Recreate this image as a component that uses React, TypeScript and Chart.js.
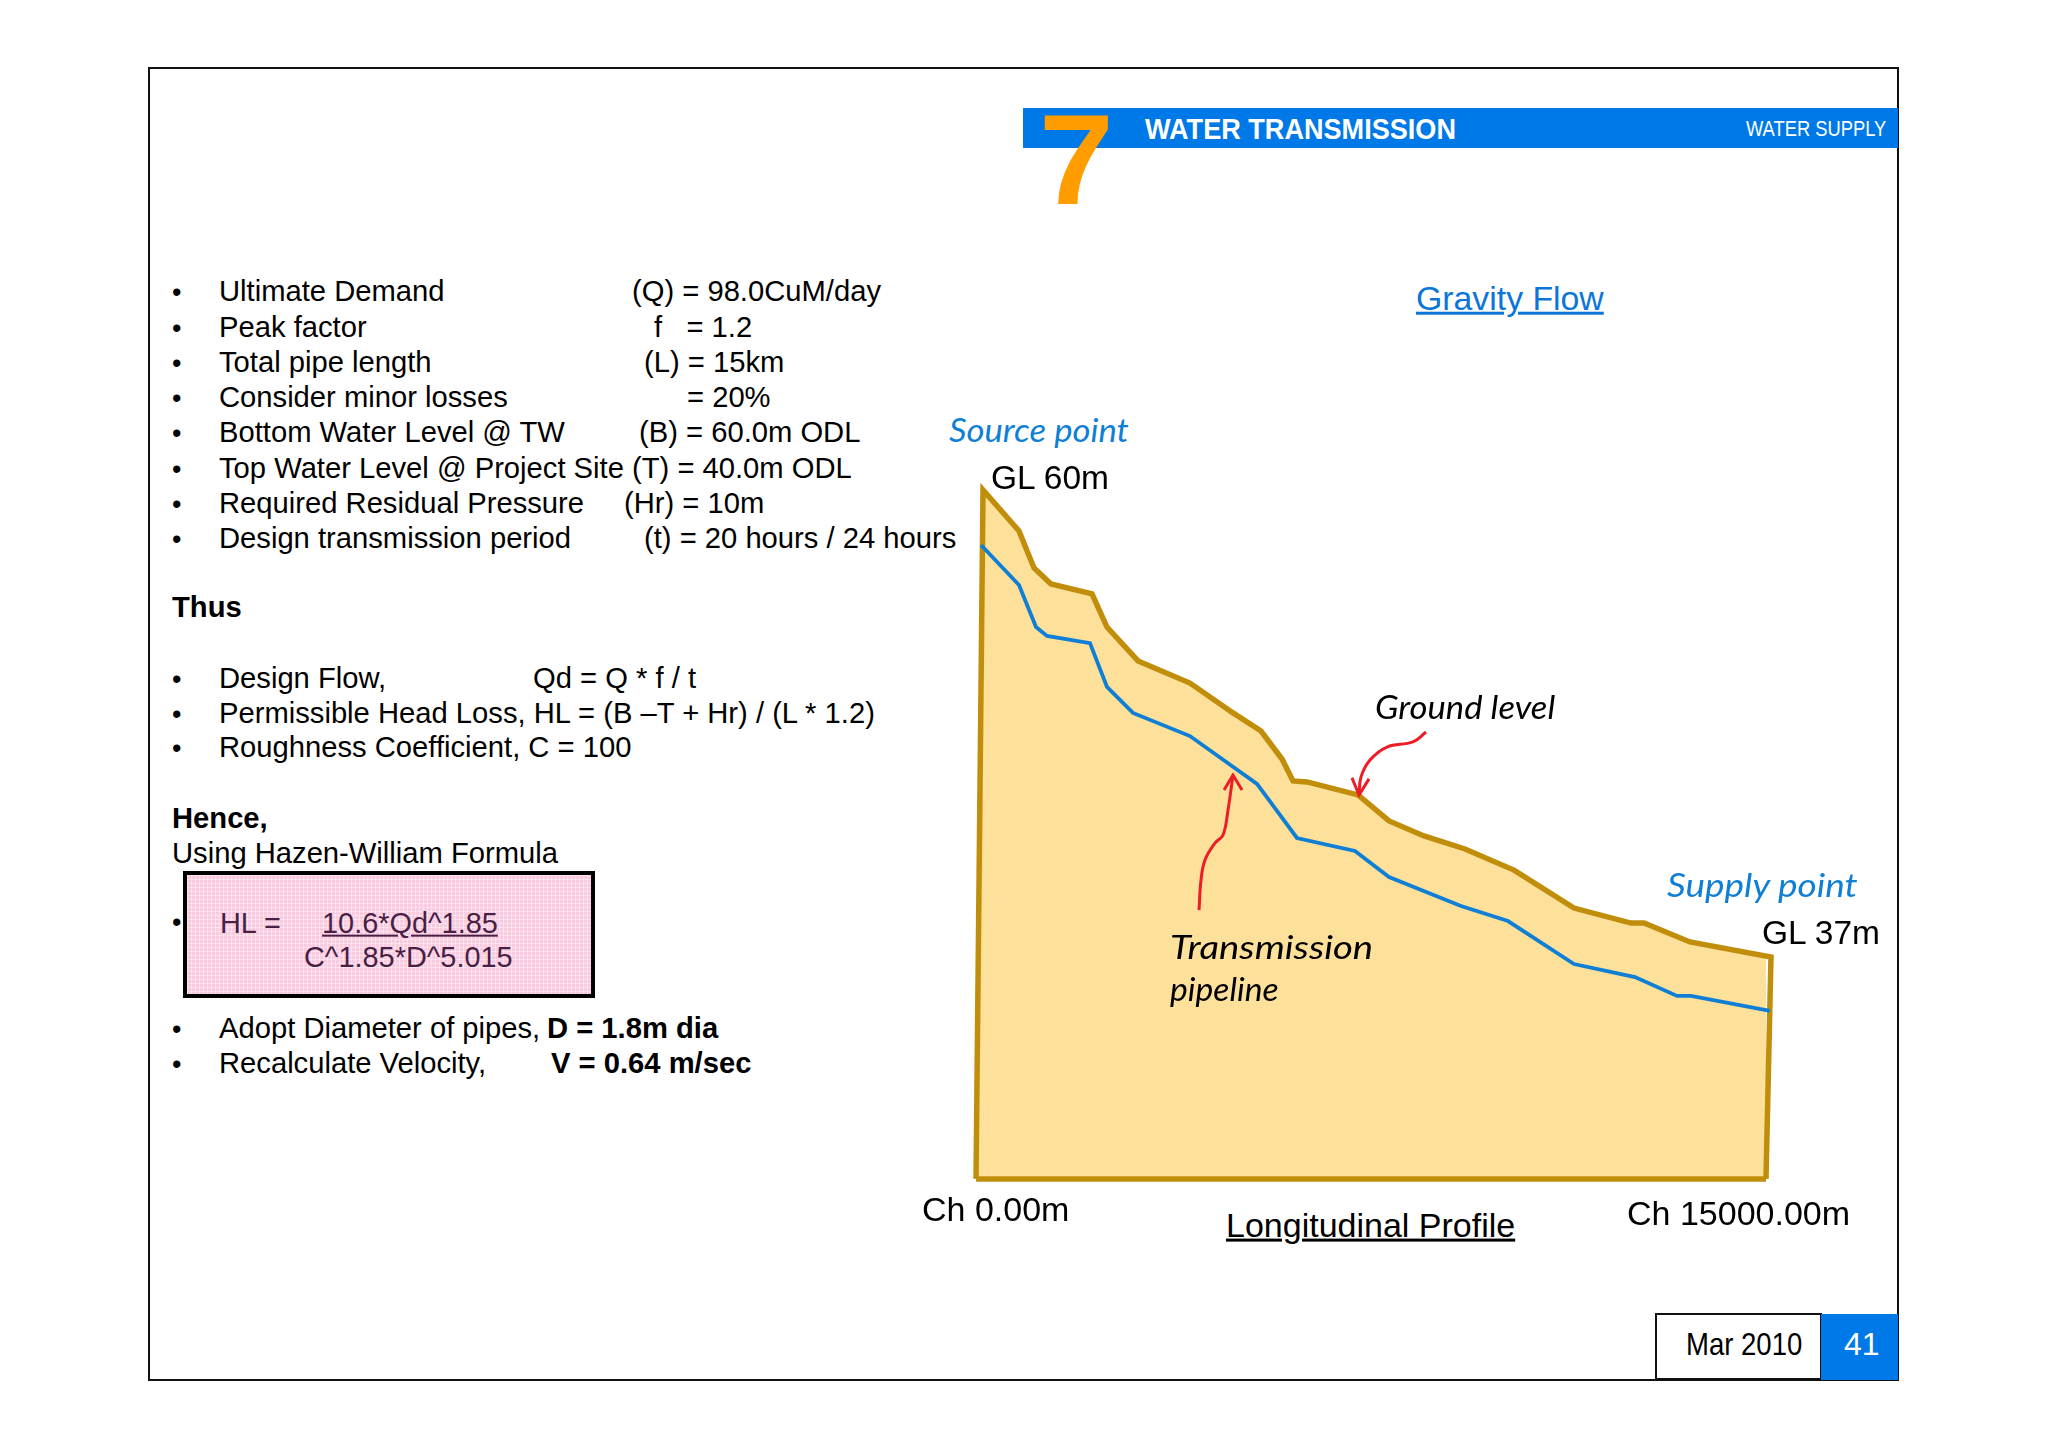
import React, { useEffect, useRef } from 'react';
import { Chart, registerables } from 'chart.js';

Chart.register(...registerables);

// ground profile, chainage in metres and level in metres ODL
const groundChainage = [-133, 0, 685, 971, 1294, 2075, 2360, 2951, 3940, 4759, 5292, 5692, 5901, 6168, 7139, 7729, 8395, 9175, 10108, 11250, 12335, 12583, 13458, 15000, 14905];
const groundLevel = [26.07, 60, 57.98, 56.16, 55.37, 54.88, 53.25, 51.58, 50.49, 49.02, 48.13, 46.75, 45.67, 45.62, 44.98, 43.7, 42.96, 42.32, 41.28, 39.41, 38.67, 38.67, 37.74, 37, 26.07];

const pipeChainage = [-38, 685, 1009, 1218, 2037, 2360, 2855, 3940, 5216, 5977, 7081, 7729, 9099, 9994, 11250, 12411, 13211, 13477, 14981];
const pipeLevel = [57.29, 55.32, 53.25, 52.81, 52.46, 50.3, 49.02, 47.88, 45.52, 42.86, 42.22, 40.94, 39.51, 38.77, 36.65, 36.01, 35.08, 35.08, 34.34];

const baseChainage = [-133, 14905];
const baseLevel = [26.07, 26.07];

// red call-out arrows
const groundArrowChainage = [8433, 8185, 7691, 7367, 7196, 7158];
const groundArrowLevel = [48.08, 47.59, 47.34, 46.7, 45.87, 44.98];
const groundHeadChainage = [7024, 7158, 7348];
const groundHeadLevel = [45.82, 44.98, 45.77];
const pipeArrowChainage = [4112, 4150, 4226, 4416, 4569, 4664, 4759];
const pipeArrowLevel = [39.31, 40.79, 41.78, 42.61, 43.01, 44.24, 45.96];
const pipeHeadChainage = [4588, 4759, 4930];
const pipeHeadLevel = [45.22, 45.96, 45.22];

const BOLD = 'bold';
const SANS = '"Liberation Sans", Arial, sans-serif';
const HAND = '"Lato", cursive';

const zip = (xs: number[], ys: number[]) => xs.map((x, i) => ({ x, y: ys[i] }));

type TProps = {
  x: number;
  y: number;
  size?: number;
  weight?: string;
  color?: string;
  font?: string;
  italic?: boolean;
  underline?: boolean;
  sx?: number;
  children: React.ReactNode;
};

function T({ x, y, size = 29.2, weight = 'normal', color = '#000', font = SANS, italic, underline, sx = 1, children }: TProps) {
  return (
    <div
      style={{
        position: 'absolute',
        left: x,
        top: y,
        transform: `translateY(-50%) scaleX(${sx})`,
        transformOrigin: 'left center',
        whiteSpace: 'pre',
        fontFamily: font,
        fontSize: size,
        fontWeight: weight,
        fontStyle: italic ? 'italic' : 'normal',
        textDecoration: underline ? 'underline' : 'none',
        color,
        lineHeight: 1.2,
      }}
    >
      {children}
    </div>
  );
}

const Box = ({ style }: { style: React.CSSProperties }) => <div style={{ position: 'absolute', boxSizing: 'border-box', ...style }} />;

const arrowStyle = { borderColor: '#EE1C25', borderWidth: 3, pointRadius: 0, showLine: true, fill: false };

function Profile() {
  const canvasRef = useRef<HTMLCanvasElement | null>(null);

  useEffect(() => {
    if (!canvasRef.current) return;
    const chart = new Chart(canvasRef.current, {
      type: 'scatter',
      data: {
        datasets: [
          { ...arrowStyle, data: zip(groundArrowChainage, groundArrowLevel), tension: 0.4 },
          { ...arrowStyle, data: zip(groundHeadChainage, groundHeadLevel) },
          { ...arrowStyle, data: zip(pipeArrowChainage, pipeArrowLevel), tension: 0.4 },
          { ...arrowStyle, data: zip(pipeHeadChainage, pipeHeadLevel) },
          { data: zip(pipeChainage, pipeLevel), borderColor: '#0F7FD6', borderWidth: 3.8, pointRadius: 0, showLine: true, fill: false },
          { data: zip(baseChainage, baseLevel), borderColor: '#C18E0C', borderWidth: 5.5, pointRadius: 0, showLine: true, fill: false },
          {
            data: zip(groundChainage, groundLevel),
            borderColor: '#C18E0C',
            borderWidth: 5.5,
            borderJoinStyle: 'miter',
            backgroundColor: '#FDE09A',
            pointRadius: 0,
            showLine: true,
            fill: { value: 26.07 },
          },
        ],
      },
      options: {
        animation: false,
        responsive: false,
        devicePixelRatio: 1,
        layout: { padding: 0 },
        plugins: { legend: { display: false }, tooltip: { enabled: false } },
        scales: {
          x: { type: 'linear', display: false, min: -438, max: 15362 },
          y: { type: 'linear', display: false, min: 25.03, max: 60.985 },
        },
      },
    });
    return () => chart.destroy();
  }, []);

  return <canvas ref={canvasRef} width={830} height={730} style={{ position: 'absolute', left: 960, top: 470, width: 830, height: 730 }} />;
}

export default function App(): React.JSX.Element {
  return (
    <div style={{ position: 'absolute', left: 0, top: 0, width: 2048, height: 1448, background: '#fff', overflow: 'hidden' }}>
      {/* page frame and header */}
      <Box style={{ left: 148, top: 67, width: 1751, height: 1314, border: '2.5px solid #111' }} />
      <Box style={{ left: 1023, top: 108, width: 875, height: 40, background: '#0079E8' }} />
      <T x={1039} y={160} size={128} weight={BOLD} color="#FF9D00" sx={1.05}>7</T>
      <T x={1145} y={129} size={29} weight={BOLD} color="#fff" sx={0.934}>WATER TRANSMISSION</T>
      <T x={1746} y={129} size={22} color="#fff" sx={0.833}>WATER SUPPLY</T>

      {/* left column */}
      {[292, 327.5, 363, 398, 433, 468.5, 504, 539, 679, 713.5, 748, 1029, 1064].map((y) => (
        <T key={y} x={172} y={y} size={27}>•</T>
      ))}
      <T x={219} y={292}>Ultimate Demand</T>
      <T x={632} y={292}>(Q) = 98.0CuM/day</T>
      <T x={219} y={327.5}>Peak factor</T>
      <T x={654} y={327.5}>f   = 1.2</T>
      <T x={219} y={363}>Total pipe length</T>
      <T x={644} y={363}>(L) = 15km</T>
      <T x={219} y={398}>Consider minor losses</T>
      <T x={687} y={398}>= 20%</T>
      <T x={219} y={433}>Bottom Water Level @ TW</T>
      <T x={639} y={433}>(B) = 60.0m ODL</T>
      <T x={219} y={468.5}>Top Water Level @ Project Site (T) = 40.0m ODL</T>
      <T x={219} y={504}>Required Residual Pressure</T>
      <T x={624} y={504}>(Hr) = 10m</T>
      <T x={219} y={539}>Design transmission period</T>
      <T x={644} y={539}>(t) = 20 hours / 24 hours</T>

      <T x={172} y={608} weight={BOLD}>Thus</T>
      <T x={219} y={679}>Design Flow,</T>
      <T x={533} y={679}>Qd = Q * f / t</T>
      <T x={219} y={713.5}>Permissible Head Loss, HL = (B –T + Hr) / (L * 1.2)</T>
      <T x={219} y={748}>Roughness Coefficient, C = 100</T>

      <T x={172} y={818.5} weight={BOLD}>Hence,</T>
      <T x={172} y={854}>Using Hazen-William Formula</T>

      <T x={172} y={922} size={27}>•</T>
      <Box
        style={{
          left: 183,
          top: 871,
          width: 412,
          height: 127,
          border: '4.5px solid #000',
          backgroundColor: '#F9CBE0',
          backgroundImage:
            'linear-gradient(to right, rgba(255,255,255,0.4) 1px, transparent 1px), linear-gradient(to bottom, rgba(255,255,255,0.4) 1px, transparent 1px)',
          backgroundSize: '4px 4px',
        }}
      />
      <T x={220} y={923} size={28.9} color="#4A1F45">HL =</T>
      <T x={322} y={923} size={28.9} color="#4A1F45" underline>10.6*Qd^1.85</T>
      <T x={304} y={957} size={28.9} color="#4A1F45">C^1.85*D^5.015</T>

      <T x={219} y={1029}>Adopt Diameter of pipes,</T>
      <T x={547} y={1029} weight={BOLD}>D = 1.8m dia</T>
      <T x={219} y={1064}>Recalculate Velocity,</T>
      <T x={551} y={1064} weight={BOLD}>V = 0.64 m/sec</T>

      {/* profile */}
      <T x={1416} y={298} size={33.8} color="#0B76D8" underline>Gravity Flow</T>
      <Profile />
      <T x={949} y={430} size={33} color="#0F7FD6" font={HAND} italic sx={1.05}>Source point</T>
      <T x={991} y={478} size={33.5}>GL 60m</T>
      <T x={1667} y={885} size={33} color="#0F7FD6" font={HAND} italic sx={1.12}>Supply point</T>
      <T x={1762} y={933} size={33.5}>GL 37m</T>
      <T x={1375} y={707} size={33} font={HAND} italic sx={1.05}>Ground level</T>
      <T x={1170} y={947} size={33} font={HAND} italic sx={1.16}>Transmission</T>
      <T x={1170} y={989} size={33} font={HAND} italic sx={1.02}>pipeline</T>
      <T x={922} y={1209} size={34}>Ch 0.00m</T>
      <T x={1627} y={1213} size={34}>Ch 15000.00m</T>
      <T x={1226} y={1225} size={34} underline>Longitudinal Profile</T>

      {/* footer */}
      <Box style={{ left: 1655, top: 1313, width: 167, height: 67, border: '2.5px solid #111', background: '#fff' }} />
      <Box style={{ left: 1821, top: 1314, width: 77, height: 66, background: '#0079E8' }} />
      <T x={1686} y={1344} size={32} sx={0.86}>Mar 2010</T>
      <T x={1844} y={1344} size={32} color="#fff">41</T>
    </div>
  );
}
